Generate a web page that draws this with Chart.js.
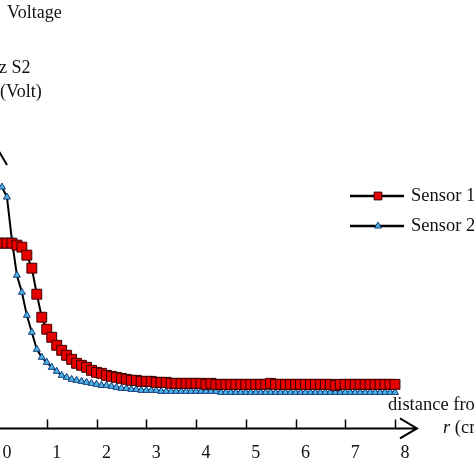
<!DOCTYPE html>
<html>
<head>
<meta charset="utf-8">
<script src="https://cdn.jsdelivr.net/npm/chart.js@4.4.1/dist/chart.umd.min.js"></script>
<style>
  html, body { margin: 0; padding: 0; background: #fff; overflow: hidden; }
  body { width: 474px; height: 474px; position: relative; }
  #mychart { position: absolute; left: -40px; top: 0; }
</style>
</head>
<body>
<canvas id="mychart" width="600" height="490"></canvas>
<script>
// distance r (cm)
var distances = [
  0.0, 0.1, 0.2, 0.3, 0.4, 0.5, 0.6, 0.7, 0.8, 0.9,
  1.0, 1.1, 1.2, 1.3, 1.4, 1.5, 1.6, 1.7, 1.8, 1.9,
  2.0, 2.1, 2.2, 2.3, 2.4, 2.5, 2.6, 2.7, 2.8, 2.9,
  3.0, 3.1, 3.2, 3.3, 3.4, 3.5, 3.6, 3.7, 3.8, 3.9,
  4.0, 4.1, 4.2, 4.3, 4.4, 4.5, 4.6, 4.7, 4.8, 4.9,
  5.0, 5.1, 5.2, 5.3, 5.4, 5.5, 5.6, 5.7, 5.8, 5.9,
  6.0, 6.1, 6.2, 6.3, 6.4, 6.5, 6.6, 6.7, 6.8, 6.9,
  7.0, 7.1, 7.2, 7.3, 7.4, 7.5, 7.6, 7.7, 7.8, 7.9, 8.0
];
// voltage (Volt)
var sensor1 = [
  1.85, 1.85, 1.85, 1.85, 1.83, 1.81, 1.73, 1.60, 1.34, 1.11,
  0.99, 0.91, 0.83, 0.78, 0.73, 0.69, 0.65, 0.63, 0.61, 0.58,
  0.56, 0.55, 0.53, 0.52, 0.51, 0.50, 0.49, 0.48, 0.48, 0.47,
  0.47, 0.47, 0.46, 0.46, 0.46, 0.45, 0.45, 0.45, 0.45, 0.45,
  0.45, 0.45, 0.44, 0.45, 0.44, 0.44, 0.44, 0.44, 0.44, 0.44,
  0.44, 0.44, 0.44, 0.44, 0.44, 0.45, 0.44, 0.44, 0.44, 0.44,
  0.44, 0.44, 0.44, 0.44, 0.44, 0.44, 0.44, 0.44, 0.43, 0.44,
  0.44, 0.44, 0.44, 0.44, 0.44, 0.44, 0.44, 0.44, 0.44, 0.44, 0.44
];
var sensor2 = [
  2.42, 2.41, 2.31, 1.88, 1.53, 1.36, 1.13, 0.96, 0.79, 0.71,
  0.66, 0.61, 0.57, 0.53, 0.51, 0.49, 0.48, 0.47, 0.46, 0.45,
  0.44, 0.43, 0.43, 0.42, 0.41, 0.40, 0.40, 0.39, 0.39, 0.38,
  0.38, 0.38, 0.38, 0.37, 0.37, 0.37, 0.37, 0.37, 0.37, 0.37,
  0.37, 0.37, 0.37, 0.37, 0.37, 0.36, 0.36, 0.36, 0.36, 0.36,
  0.36, 0.36, 0.36, 0.36, 0.36, 0.36, 0.36, 0.36, 0.36, 0.36,
  0.36, 0.36, 0.36, 0.36, 0.36, 0.36, 0.36, 0.36, 0.36, 0.36,
  0.36, 0.36, 0.36, 0.36, 0.36, 0.36, 0.36, 0.36, 0.36, 0.36, 0.36
];
var seriesNames = ['Sensor 1', 'Sensor 2'];
var xTicks = [0, 1, 2, 3, 4, 5, 6, 7, 8];

var SERIF = '"Liberation Serif", "Times New Roman", serif';
var OFF = 40; // canvas is shifted 40px left of the page

function toPoints(ys) {
  var pts = [];
  for (var i = 0; i < distances.length; i++) {
    pts.push({ x: distances[i], y: ys[i] });
  }
  return pts;
}

// axes with arrows, inward ticks, legend and texts
var decor = {
  id: 'decor',
  afterDraw: function(chart) {
    var ctx = chart.ctx;
    var xs = chart.scales.x, ys = chart.scales.y;
    var x0 = xs.getPixelForValue(0);
    var y0 = ys.getPixelForValue(0);
    var top = chart.chartArea.top;
    var tipX = xs.getPixelForValue(8) + 22;
    ctx.save();
    ctx.strokeStyle = '#000';
    ctx.lineWidth = 2;
    ctx.beginPath();
    ctx.moveTo(0, y0); ctx.lineTo(tipX, y0);
    ctx.moveTo(tipX - 17, y0 - 10); ctx.lineTo(tipX, y0); ctx.lineTo(tipX - 17, y0 + 10);
    ctx.moveTo(x0, y0); ctx.lineTo(x0, top);
    ctx.moveTo(x0 - 10, top + 17); ctx.lineTo(x0, top); ctx.lineTo(x0 + 10, top + 17);
    ctx.stroke();
    ctx.lineWidth = 1.5;
    ctx.beginPath();
    for (var i = 0; i < xTicks.length; i++) {
      var px = Math.round(xs.getPixelForValue(xTicks[i])) + 0.5;
      ctx.moveTo(px, y0); ctx.lineTo(px, y0 - 9);
    }
    ctx.stroke();

    // legend
    var ds = chart.data.datasets;
    var ly = [196, 226];
    for (var k = 0; k < ds.length; k++) {
      ctx.strokeStyle = '#000';
      ctx.lineWidth = 2.5;
      ctx.beginPath();
      ctx.moveTo(350 + OFF, ly[k]); ctx.lineTo(404 + OFF, ly[k]);
      ctx.stroke();
      ctx.fillStyle = ds[k].pointBackgroundColor;
      ctx.strokeStyle = ds[k].pointBorderColor;
      ctx.lineWidth = 1;
      Chart.helpers.drawPoint(ctx, {
        pointStyle: ds[k].pointStyle,
        radius: k === 0 ? 5.5 : 4,
        borderWidth: 1
      }, 378 + OFF, ly[k]);
      ctx.fillStyle = '#111';
      ctx.font = '18.5px ' + SERIF;
      ctx.textBaseline = 'middle';
      ctx.textAlign = 'left';
      ctx.fillText(ds[k].label, 411 + OFF, ly[k]);
    }

    // axis titles
    ctx.fillStyle = '#111';
    ctx.font = '18px ' + SERIF;
    ctx.textBaseline = 'middle';
    ctx.fillText('Voltage', 7 + OFF, 13);
    ctx.fillText('z S2', -1 + OFF, 68);
    ctx.fillText('(Volt)', 0 + OFF, 92);
    ctx.font = '18.5px ' + SERIF;
    ctx.fillText('distance from sensor', 388 + OFF, 405);
    ctx.font = 'italic 18.5px ' + SERIF;
    ctx.fillText('r', 443 + OFF, 428);
    var rw = ctx.measureText('r ').width;
    ctx.font = '18.5px ' + SERIF;
    ctx.fillText('(cm)', 443 + OFF + rw, 428);
    ctx.restore();
  }
};

var ctx = document.getElementById('mychart');
var myChart = new Chart(ctx, {
  type: 'line',
  data: {
    datasets: [{
      label: seriesNames[0],
      data: toPoints(sensor1),
      borderColor: '#000',
      borderWidth: 2,
      pointStyle: 'rect',
      pointRadius: 7,
      pointBackgroundColor: '#e60000',
      pointBorderColor: '#3a0000',
      pointBorderWidth: 1,
      clip: false
    }, {
      label: seriesNames[1],
      data: toPoints(sensor2),
      borderColor: '#000',
      borderWidth: 2,
      pointStyle: 'triangle',
      pointRadius: 4,
      pointBackgroundColor: '#4db4e6',
      pointBorderColor: '#123a7a',
      pointBorderWidth: 1,
      clip: false
    }]
  },
  options: {
    responsive: false,
    animation: false,
    devicePixelRatio: 1,
    layout: { padding: { left: 37, right: 165, top: 148, bottom: 12 } },
    plugins: { legend: { display: false }, tooltip: { enabled: false } },
    scales: {
      x: {
        type: 'linear',
        min: 0,
        max: 8,
        grid: { display: false, drawTicks: false },
        border: { display: false },
        ticks: {
          stepSize: 1,
          padding: 14,
          labelOffset: 10,
          color: '#111',
          font: { family: SERIF, size: 18 }
        }
      },
      y: {
        type: 'linear',
        min: 0,
        max: 2.8,
        display: false
      }
    }
  },
  plugins: [decor]
});
</script>
</body>
</html>
